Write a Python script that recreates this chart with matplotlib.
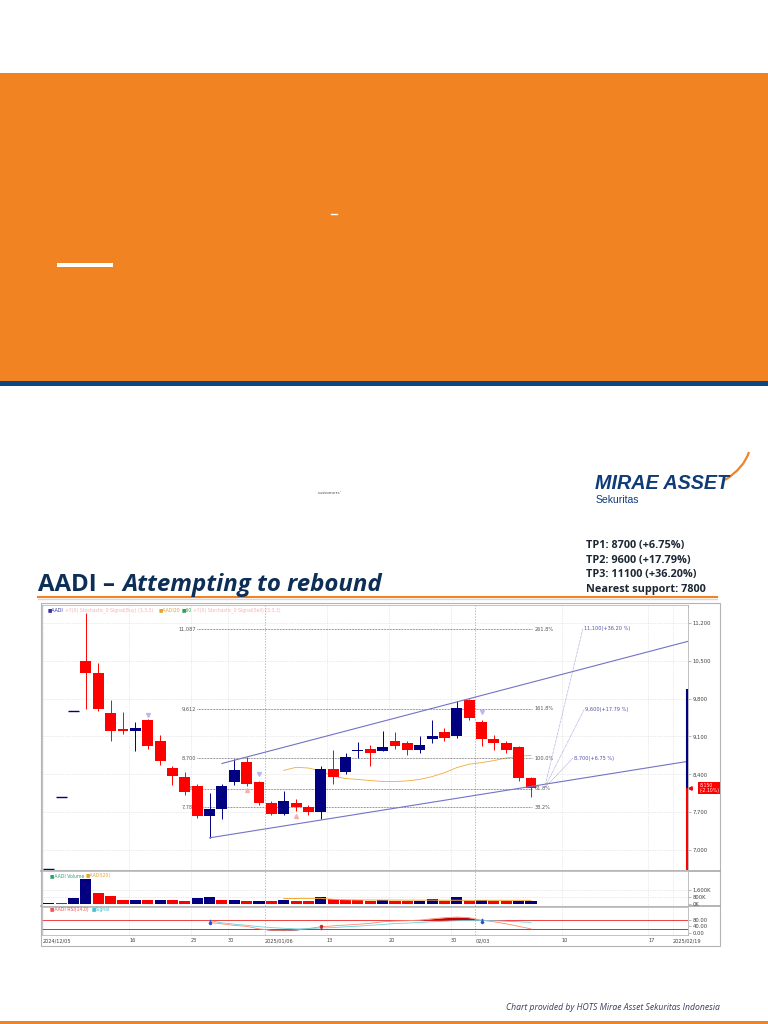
import matplotlib
matplotlib.use("Agg")
import matplotlib.pyplot as plt
import numpy as np
import pandas as pd
from matplotlib.patches import Rectangle, PathPatch
from matplotlib.path import Path

# ---- data ----
dates = ["2024-12-05", "2024-12-06", "2024-12-09", "2024-12-10", "2024-12-11", "2024-12-12",
         "2024-12-13", "2024-12-16", "2024-12-17", "2024-12-18", "2024-12-19", "2024-12-20",
         "2024-12-23", "2024-12-24", "2024-12-27", "2024-12-30", "2025-01-02", "2025-01-03",
         "2025-01-06", "2025-01-07", "2025-01-08", "2025-01-09", "2025-01-10", "2025-01-13",
         "2025-01-14", "2025-01-15", "2025-01-16", "2025-01-17", "2025-01-20", "2025-01-21",
         "2025-01-22", "2025-01-23", "2025-01-24", "2025-01-30", "2025-01-31", "2025-02-03",
         "2025-02-04", "2025-02-05", "2025-02-06", "2025-02-07"]
opens = [6650, 7975, 9575, 10500, 10275, 9525, 9235, 9200, 9400, 9025, 8525, 8350, 8175, 7625,
         7750, 8250, 8625, 8250, 7875, 7675, 7875, 7800, 7700, 8500, 8450, 8825, 8875, 8825,
         9025, 8975, 8850, 9050, 9175, 9100, 9775, 9375, 9050, 8975, 8900, 8325]
highs = [6650, 7975, 9575, 11375, 10450, 9775, 9550, 9375, 9425, 9125, 8550, 8450, 8225, 8050,
         8225, 8675, 8725, 8275, 7900, 8100, 7950, 7825, 8550, 8850, 8800, 9000, 8950, 9200,
         9175, 9025, 9100, 9400, 9250, 9750, 9800, 9400, 9125, 9025, 8925, 8350]
lows = [6650, 7975, 9575, 9600, 9575, 9025, 9150, 8825, 8875, 8575, 8200, 8025, 7600, 7225,
        7575, 8200, 8175, 7825, 7650, 7650, 7725, 7650, 7575, 8225, 8400, 8700, 8550, 8825,
        8875, 8750, 8800, 8975, 9025, 9075, 9400, 8925, 8850, 8800, 8275, 7975]
closes = [6650, 7975, 9575, 10275, 9600, 9200, 9200, 9250, 8925, 8650, 8375, 8075, 7625, 7750,
          8175, 8475, 8225, 7875, 7675, 7900, 7800, 7700, 8500, 8350, 8725, 8850, 8800, 8900,
          8925, 8850, 8950, 9100, 9075, 9625, 9450, 9050, 8975, 8850, 8325, 8150]
volume_k = [100, 100, 640, 2950, 1270, 955, 480, 480, 440, 440, 440, 320, 680, 760, 400, 440,
            360, 360, 280, 400, 280, 280, 760, 600, 400, 400, 320, 480, 280, 280, 320, 600,
            280, 760, 280, 480, 320, 320, 280, 280]
# u = blue bar, d = red bar
volume_dir = "uduudddudu" + "dduudududu" + "dduddddudd" + "uudududduu"
rsi_vals = [64.5, 56, 46, 40, 24, 15.5, 13, 17, 26, 37, 43, 48, 53, 59, 69, 73.5, 75.5, 80,
            88, 95, 99, 95, 79, 69, 56, 40, 24]
signal_vals = [75.5, 62.5, 54, 46.5, 38, 32, 28, 24, 26, 30, 32, 37, 41, 46.5, 51.5, 58, 60.5,
               64.5, 69, 72, 75.5, 77.5, 77, 75.5, 72, 69, 64.5]
rsi_start = 13

fib_low, fib_high = 7225, 8700
fib_ratios = [0.382, 0.618, 1.0, 1.618, 2.618]
targets = [8700, 9600, 11100]
target_labels = ["8,700(+6.75 %)", "9,600(+17.79 %)", "11,100(+36.20 %)"]
upper_channel = ([14.0, 51.7], [8600, 10860])
lower_channel = ([13.0, 51.7], [7225, 8640])
range_top = 9975

price_ticks = [7000, 7700, 8400, 9100, 9800, 10500, 11200]
tick_dates = ["2024-12-05", "2024-12-16", "2024-12-23", "2024-12-30", "2025-01-06", "2025-01-13",
              "2025-01-20", "2025-01-30", "2025-02-03", "2025-02-10", "2025-02-17", "2025-02-19"]
tick_labels = ["2024/12/05", "16", "23", "30", "2025/01/06", "13", "20", "30", "02/03", "10",
               "17", "2025/02/19"]
tp_lines = ["TP1: 8700 (+6.75%)", "TP2: 9600 (+17.79%)", "TP3: 11100 (+36.20%)",
            "Nearest support: 7800"]

# ---- derived ----
n = len(closes)
x = np.arange(n)
last_date = pd.Timestamp(dates[-1])


def date_pos(d):
    if d in dates:
        return dates.index(d) - 0.5
    return (n - 1) + (pd.Timestamp(d) - last_date).days - 0.5


tick_pos = [date_pos(d) for d in tick_dates]
ma20 = pd.Series(closes).rolling(20).mean()
vol_ma = pd.Series(volume_k).rolling(20).mean()
rsi = np.full(n, np.nan)
rsi[rsi_start:] = rsi_vals
sig = np.full(n, np.nan)
sig[rsi_start:] = signal_vals

ORANGE = "#F28322"
NAVY = "#0D2F57"
RED = "#FF0000"
BLUE = "#000080"
CHAN = "#7373C6"
GRID = "#D6D6D6"
XLIM = (-0.55, 51.7)

fig = plt.figure(figsize=(7.68, 10.24), dpi=100)


def rect(x0, y0, x1, y1):
    return [x0 / 768, 1 - y1 / 1024, (x1 - x0) / 768, (y1 - y0) / 1024]


# background / page decorations in pixel coordinates
bg = fig.add_axes([0, 0, 1, 1])
bg.set_xlim(0, 768)
bg.set_ylim(1024, 0)
bg.axis("off")
bg.add_patch(Rectangle((0, 73), 768, 308, color=ORANGE, lw=0))
bg.add_patch(Rectangle((0, 381), 768, 5, color="#0B4A80", lw=0))
bg.add_patch(Rectangle((57, 263), 56, 3.5, color="white", lw=0))
bg.plot([331, 337], [214, 214], color="white", lw=1)
bg.text(318, 493, "customers'", fontsize=3.2, color="#555555", va="center")

# logo
bg.text(595, 489, "MIRAE ASSET", fontsize=14.2, fontweight="heavy", style="italic",
        color="#0F3B78", family="Liberation Sans")
bg.text(596, 503, "Sekuritas", fontsize=7.5, color="#0F3B78", family="Liberation Sans")
swoosh = Path([(725, 480), (744, 468), (749, 452)], [Path.MOVETO, Path.CURVE3, Path.CURVE3])
bg.add_patch(PathPatch(swoosh, fc="none", ec=ORANGE, lw=1.6))

for k, line in enumerate(tp_lines):
    bg.text(586, 548 + k * 14.7, line, fontsize=7.8, fontweight="bold", color="#1C2733",
            family="Open Sans")

bg.text(38, 591, "AADI \u2013", fontsize=17.3, fontweight="bold", color=NAVY, family="Open Sans")
bg.text(122, 591, "Attempting to rebound", fontsize=17.3, fontweight="bold", style="italic",
        color=NAVY, family="Open Sans")
bg.plot([38, 717], [598.5, 598.5], color="#D8D8D8", lw=1)
bg.plot([38, 717], [596.5, 596.5], color=ORANGE, lw=1.5)

bg.text(720, 1010, "Chart provided by HOTS Mirae Asset Sekuritas Indonesia", fontsize=6.2,
        style="italic", color="#3A405E", ha="right", family="Open Sans")
bg.add_patch(Rectangle((0, 1021), 768, 3, color=ORANGE, lw=0))

# chart frame
bg.add_patch(Rectangle((41, 603), 679, 343, fc="white", ec="#B4B4B4", lw=0.8))
for yy in (870.5, 906):
    bg.plot([41, 720], [yy, yy], color="#A8A8A8", lw=1.2)
for yy in (607, 873, 908.5):
    bg.add_patch(Rectangle((43, yy - 1.5), 3, 2.5, color="#333333", lw=0))
bg.add_patch(Rectangle((684, 605), 5, 3, color="#999999", lw=0))


def style_panel(a):
    a.set_xlim(*XLIM)
    a.set_facecolor("white")
    for s in a.spines.values():
        s.set_color("#B8B8B8")
        s.set_linewidth(0.6)
    a.yaxis.tick_right()
    a.tick_params(axis="y", labelsize=3.8, labelcolor="#404040", length=2, width=0.4,
                  color="#888888", pad=1.5)
    for p, d in zip(tick_pos, tick_dates):
        strong = d in ("2025-01-06", "2025-02-03")
        a.axvline(p, color="#A0A0A0" if strong else GRID, lw=0.5,
                  ls=(0, (2, 2)) if strong else (0, (1, 1.5)), zorder=0)


# ---- price panel ----
ax = fig.add_axes(rect(42, 605, 688, 870))
style_panel(ax)
ax.set_ylim(6630, 11532)
ax.set_yticks(price_ticks)
ax.set_yticklabels([f"{v:,}" for v in price_ticks])
ax.set_xticks([])
for v in price_ticks:
    ax.axhline(v, color=GRID, lw=0.5, ls=(0, (1, 1.5)), zorder=0)

for i in range(n):
    o, h, l, c = opens[i], highs[i], lows[i], closes[i]
    col = RED if c < o else BLUE
    ax.vlines(i, l, h, color=col, lw=0.7, zorder=3)
    if abs(c - o) < 1:
        ax.hlines(c, i - 0.44, i + 0.44, color=col, lw=1.0, zorder=3)
    else:
        ax.bar(i, abs(c - o), bottom=min(o, c), width=0.88, color=col, lw=0, zorder=4)

ax.plot(x, ma20, color="#F2A93B", lw=0.6, zorder=2)

for r in fib_ratios:
    lvl = fib_low + r * (fib_high - fib_low)
    ax.hlines(lvl, 12.0, 39.1, color="#555555", lw=0.55, ls=(0, (1, 1)), zorder=2)
    ax.text(11.9, lvl, f"{lvl:,.0f}", fontsize=3.6, color="#555555", ha="right", va="center")
    ax.text(39.3, lvl, f"{r * 100:.1f}%", fontsize=3.6, color="#555555", ha="left", va="center")

ax.plot(*upper_channel, color=CHAN, lw=0.8, zorder=5)
ax.plot(*lower_channel, color=CHAN, lw=0.8, zorder=5)

fan_x = [42.4, 43.3, 43.2]
for tx, tv, lab in zip(fan_x, targets, target_labels):
    ax.plot([40.1, tx], [closes[-1], tv], color="#8A8AD8", lw=0.5, ls=(0, (1, 1)), zorder=5)
    ax.text(tx + 0.1, tv, lab, fontsize=3.6, color="#5050B0", ha="left", va="center")

# signal arrows on the candles
ax.plot([8, 17, 35], [9500, 8400, 9560], ls="none", marker="v", ms=2.8, color="#B9B9F0",
        zorder=6)
ax.plot([16, 20], [8110, 7630], ls="none", marker="^", ms=2.8, color="#F6B0B0", zorder=6)

# current price bar on right edge
ax.vlines(51.6, closes[-1], range_top, color=BLUE, lw=1.5, zorder=6, clip_on=False)
ax.vlines(51.6, ax.get_ylim()[0], closes[-1], color=RED, lw=1.5, zorder=6, clip_on=False)
ax.plot(51.9, closes[-1], marker="<", ms=2.5, color=RED, clip_on=False)
chg = (closes[-1] - closes[-2]) / closes[-2] * 100
ax.text(52.6, closes[-1], f"{closes[-1]:,}\n({chg:.2f}%)", fontsize=3.3, color="white",
        ha="left", va="center", linespacing=1.0, clip_on=False,
        bbox=dict(boxstyle="square,pad=0.25", fc=RED, ec="none"))

ax.text(0.008, 0.993, "\u25a0AADI", transform=ax.transAxes, fontsize=3.3, color="#3030A0",
        va="top")
ax.text(0.035, 0.993, "+Y(X) Stochastic_0 Signal(Buy) (3,3,3)", transform=ax.transAxes,
        fontsize=3.3, color="#F5B5B5", va="top")
ax.text(0.18, 0.993, "\u25a0AADI20", transform=ax.transAxes, fontsize=3.3, color="#E8A030",
        va="top")
ax.text(0.216, 0.993, "\u25a060", transform=ax.transAxes, fontsize=3.3, color="#30A050",
        va="top")
ax.text(0.234, 0.993, "+Y(X) Stochastic_0 Signal(Sell) (3,3,3)", transform=ax.transAxes,
        fontsize=3.3, color="#F5B5B5", va="top")

# ---- volume panel ----
vax = fig.add_axes(rect(42, 871, 688, 905.5))
style_panel(vax)
vax.set_ylim(-200, 3850)
vax.set_xticks([])
vax.set_yticks([0, 800, 1600])
vax.set_yticklabels(["0K", "800K", "1,600K"])
for v in (800, 1600):
    vax.axhline(v, color=GRID, lw=0.5, ls=(0, (1, 1.5)), zorder=0)
vcols = [BLUE if d == "u" else RED for d in volume_dir]
vax.bar(x, volume_k, width=0.9, color=vcols, lw=0, zorder=3)
vax.plot(x, vol_ma, color="#F2A93B", lw=0.7, zorder=4)
vax.text(0.012, 0.95, "\u25a0AADI Volume", transform=vax.transAxes, fontsize=3.3,
         color="#30A070", va="top")
vax.text(0.068, 0.95, "\u25a0AADI(20)", transform=vax.transAxes, fontsize=3.3,
         color="#E8A030", va="top")

# ---- RSI panel ----
rax = fig.add_axes(rect(42, 906.5, 688, 935))
style_panel(rax)
rax.set_ylim(-15, 166)
rax.set_yticks([0, 40, 80])
rax.set_yticklabels(["0.00", "40.00", "80.00"])
rax.axhline(80, color="#F04040", lw=0.7, zorder=2)
rax.axhline(20, color="#4858C0", lw=0.7, zorder=2)
rax.plot(x, rsi, color="#FF8A6A", lw=0.6, zorder=3)
rax.plot(x, sig, color="#6ED2E0", lw=0.6, zorder=3)
rax.fill_between(x, rsi, 80, where=rsi > 80, interpolate=True, color="#C80000", lw=0, zorder=2)
rax.fill_between(x, rsi, 20, where=rsi < 20, interpolate=True, color="#1A1A80", lw=0, zorder=2)
rax.plot([rsi_start, 35], [rsi[rsi_start], sig[35]], ls="none", marker="$\u2193$", ms=3,
         color="#3050D0", zorder=5)
rax.plot([22], [rsi[22]], ls="none", marker="$\u2191$", ms=3, color="#D02020", zorder=5)
rax.text(0.012, 0.97, "\u25a0AADI RSI(14,0)", transform=rax.transAxes, fontsize=3.3,
         color="#F05050", va="top")
rax.text(0.077, 0.97, "\u25a0Signal", transform=rax.transAxes, fontsize=3.3,
         color="#40C0D0", va="top")
rax.set_xticks(tick_pos)
rax.set_xticklabels(tick_labels, ha="left")
rax.tick_params(axis="x", labelsize=3.6, labelcolor="#404040", length=0, pad=2.5)

plt.savefig("out.png", dpi=100)
plt.close()
